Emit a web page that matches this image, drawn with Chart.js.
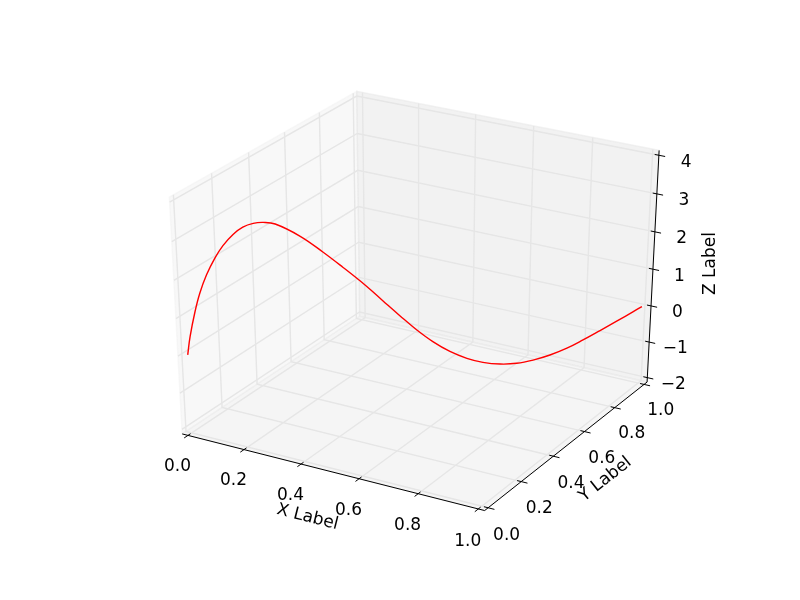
<!DOCTYPE html>
<html>
<head>
<meta charset="utf-8">
<script src="https://cdn.jsdelivr.net/npm/chart.js@4"></script>
<style>
  html, body { margin: 0; background: #fff; }
  canvas { display: block; }
</style>
</head>
<body>
<canvas id="chart" width="800" height="600"></canvas>
<script>
const xTicks = [0, 0.2, 0.4, 0.6, 0.8, 1];
const yTicks = [0, 0.2, 0.4, 0.6, 0.8, 1];
const zTicks = [-2, -1, 0, 1, 2, 3, 4];
const xLabels = ['0.0', '0.2', '0.4', '0.6', '0.8', '1.0'];
const yLabels = ['0.0', '0.2', '0.4', '0.6', '0.8', '1.0'];
const zLabels = ['\u22122', '\u22121', '0', '1', '2', '3', '4'];

// red curve
const curveX = [0, 0.007, 0.02, 0.032, 0.048, 0.067, 0.085, 0.107, 0.128, 0.15, 0.171, 0.196, 0.247, 0.295, 0.337, 0.388, 0.423, 0.46, 0.496, 0.532, 0.57, 0.608, 0.644, 0.683, 0.72, 0.757, 0.795, 0.833, 0.869, 0.907, 0.944, 0.98, 1];
const curveY = curveX;
const curveZ = [0.01, 0.49, 1.13, 1.6, 2.06, 2.47, 2.77, 3.03, 3.19, 3.26, 3.26, 3.19, 2.82, 2.35, 1.9, 1.33, 0.9, 0.45, 0.03, -0.34, -0.66, -0.9, -1.06, -1.16, -1.19, -1.15, -1.06, -0.92, -0.74, -0.53, -0.32, -0.11, 0.01];

const xLim = [0, 1], yLim = [0, 1], zLim = [-2, 4];
const pad = 1 / 48; // panes stick out a bit past the limits, like mplot3d

function sub(a, b) { return a.map((v, i) => v - b[i]); }
function dot(a, b) { return a[0]*b[0] + a[1]*b[1] + a[2]*b[2]; }
function cross(a, b) { return [a[1]*b[2]-a[2]*b[1], a[2]*b[0]-a[0]*b[2], a[0]*b[1]-a[1]*b[0]]; }
function unit(a) { const n = Math.sqrt(dot(a, a)); return a.map(v => v / n); }

// elev 30, azim -60, dist 10
const elev = 30 * Math.PI / 180, azim = -60 * Math.PI / 180, dist = 10;
const E = [0.5 + dist*Math.cos(azim)*Math.cos(elev), 0.5 + dist*Math.sin(azim)*Math.cos(elev), 0.5 + dist*Math.sin(elev)];
const n = unit(sub(E, [0.5, 0.5, 0.5]));
const u = unit(cross([0, 0, 1], n));
const v = unit(cross(n, u));

// 3d point -> flat point for the scatter scales
function project(x, y, z) {
  const p = sub([x, y, (z - zLim[0]) / (zLim[1] - zLim[0])], E);
  const w = -dot(n, p);
  return { x: dot(u, p) / w, y: dot(v, p) / w };
}
const scaleX = { min: -0.12484, max: 0.11387 };
const scaleY = { min: -0.11813, max: 0.11313 };

const zPad = pad * 6;
const x0 = xLim[0] - pad, x1 = xLim[1] + pad;
const y0 = yLim[0] - pad, y1 = yLim[1] + pad;
const z0 = zLim[0] - zPad, z1 = zLim[1] + zPad;
const tickIn = 0.0138, tickOut = 0.0207;

function path(points, color, width, fillColor) {
  return {
    data: points.map(p => project(p[0], p[1], p[2])),
    showLine: true, pointRadius: 0, borderColor: color, borderWidth: width,
    fill: fillColor ? 'shape' : false, backgroundColor: fillColor || color, clip: false
  };
}

const datasets = [];
const paneEdge = (c) => 'rgba(' + c + ',' + c + ',' + c + ',0.5)';
// panes
datasets.push(path([[x0,y0,z0],[x0,y1,z0],[x0,y1,z1],[x0,y0,z1],[x0,y0,z0]], paneEdge(242), 1.4, paneEdge(242)));
datasets.push(path([[x0,y1,z0],[x1,y1,z0],[x1,y1,z1],[x0,y1,z1],[x0,y1,z0]], paneEdge(230), 1.4, paneEdge(230)));
datasets.push(path([[x0,y0,z0],[x1,y0,z0],[x1,y1,z0],[x0,y1,z0],[x0,y0,z0]], paneEdge(236), 1.4, paneEdge(236)));
// grid
const gridColor = '#e6e6e6';
xTicks.forEach(t => datasets.push(path([[t,y0,z0],[t,y1,z0],[t,y1,z1]], gridColor, 1.4)));
yTicks.forEach(t => datasets.push(path([[x1,t,z0],[x0,t,z0],[x0,t,z1]], gridColor, 1.4)));
zTicks.forEach(t => datasets.push(path([[x0,y0,t],[x0,y1,t],[x1,y1,t]], gridColor, 1.4)));
// axis lines and tick marks
const axisWidth = 1;
datasets.push(path([[x0,y0,z0],[x1,y0,z0]], '#000', axisWidth));
datasets.push(path([[x1,y0,z0],[x1,y1,z0]], '#000', axisWidth));
datasets.push(path([[x1,y1,z0],[x1,y1,z1]], '#000', axisWidth));
xTicks.forEach(t => datasets.push(path([[t,y0-tickOut,z0],[t,y0+tickIn,z0]], '#000', axisWidth)));
yTicks.forEach(t => datasets.push(path([[x1+tickOut,t,z0],[x1-tickIn,t,z0]], '#000', axisWidth)));
zTicks.forEach(t => datasets.push(path([[x1+tickOut,y1,t],[x1-tickIn,y1,t]], '#000', axisWidth)));
// curve
datasets.push({
  data: curveX.map((x, i) => project(x, curveY[i], curveZ[i])),
  showLine: true, pointRadius: 0, borderColor: '#ff0000', borderWidth: 1.4,
  tension: 0.4, fill: false
});
// chart.js draws the highest order first, so keep push order as paint order
datasets.forEach((d, i) => { d.order = datasets.length - i; });

const font = '17px "DejaVu Sans"';
const labelPlugin = {
  id: 'axisText',
  afterDatasetsDraw(chart) {
    const c = chart.ctx, sX = chart.scales.x, sY = chart.scales.y;
    const at = (x, y, z) => { const p = project(x, y, z); return [sX.getPixelForValue(p.x), sY.getPixelForValue(p.y)]; };
    const put = (text, pos, rot) => {
      c.save(); c.translate(pos[0], pos[1]); c.rotate(rot || 0);
      c.font = font; c.fillStyle = '#000'; c.textAlign = 'center'; c.textBaseline = 'middle';
      c.fillText(text, 0, 0); c.restore();
    };
    xTicks.forEach((t, i) => put(xLabels[i], at(t + 0.008, -0.096, -2.72)));
    yTicks.forEach((t, i) => put(yLabels[i], at(1.083, t, -2.75)));
    zTicks.forEach((t, i) => put(zLabels[i], at(1.105, 1.033, t - 0.08)));
    const angle = (a, b) => Math.atan2(b[1] - a[1], b[0] - a[0]);
    put('X Label', at(0.524, -0.189, -2.735), angle(at(0, y0, z0), at(1, y0, z0)));
    put('Y Label', at(1.147, 0.5, -2.865), angle(at(x1, 0, z0), at(x1, 1, z0)));
    put('Z Label', at(1.163, 1.1245, 1.09), -Math.PI / 2);
  }
};

new Chart(document.getElementById('chart'), {
  type: 'scatter',
  data: { datasets },
  options: {
    responsive: false, animation: false, layout: { padding: 0 },
    plugins: { legend: { display: false }, tooltip: { enabled: false } },
    scales: { x: { display: false, ...scaleX }, y: { display: false, ...scaleY } }
  },
  plugins: [labelPlugin]
});
</script>
</body>
</html>
